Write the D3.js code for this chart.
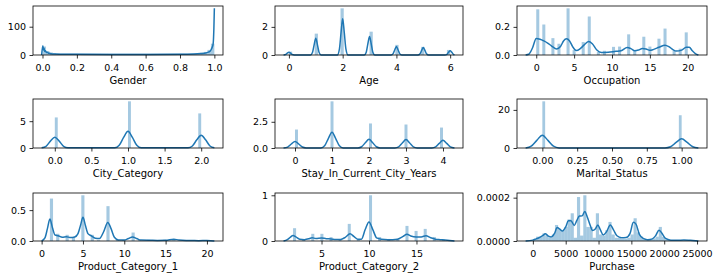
<!DOCTYPE html>
<html>
<head>
<meta charset="utf-8">
<script src="https://cdn.jsdelivr.net/npm/d3@7"></script>
<style>
    body { margin: 0; background: #fff; }
    svg text { font-family: "DejaVu Sans", sans-serif; font-size: 10px; fill: #000; }
</style>
</head>
<body>
<div id="vis"></div>
<script>
// column names, one panel each (row by row)
var names = ['Gender', 'Age', 'Occupation',
    'City_Category', 'Stay_In_Current_City_Years', 'Marital_Status',
    'Product_Category_1', 'Product_Category_2', 'Purchase'];

// histogram range of each column (50 bins each)
var binRanges = [[0, 1], [0, 6], [0, 20], [0, 2], [0, 4], [0, 1], [1, 20], [2, 18], [12, 23961]];

var xTickVals = [[0, 0.2, 0.4, 0.6, 0.8, 1], [0, 2, 4, 6], [0, 5, 10, 15, 20],
    [0, 0.5, 1, 1.5, 2], [0, 1, 2, 3, 4], [0, 0.25, 0.5, 0.75, 1],
    [0, 5, 10, 15, 20], [5, 10, 15], [0, 5000, 10000, 15000, 20000, 25000]];
var xTickFmt = ['.1f', 'd', 'd', '.1f', 'd', '.2f', 'd', 'd', 'd'];
var yTickVals = [[0, 100], [0, 2], [0, 0.2], [0, 5], [0, 2.5], [0, 20], [0, 0.5], [0, 1], [0, 0.0002]];
var yTickFmt = ['d', 'd', '.1f', 'd', '.1f', 'd', '.1f', 'd', '.4f'];

// bar heights (density) - Gender and Purchase are given bin by bin
var genderHist = [30, 14, 9, 7, 6,
    5, 5, 5, 5, 5, 5, 5, 5, 5, 5, 5, 5, 5, 5, 5, 5, 5, 5, 5, 5,
    5, 5, 5, 5, 5, 5, 5, 5, 5, 5, 5, 5, 5, 5, 5, 5, 5, 5, 5, 5,
    6, 8, 11, 18, 40];
var ageBars = [[0, 0.24], [1, 1.52], [2, 3.32], [3, 1.66], [4, 0.72], [5, 0.58], [6, 0.36]];
var occupationBars = [[0, 0.325], [1, 0.217], [2, 0.12], [3, 0.08], [4, 0.332], [5, 0.035], [6, 0.092],
    [7, 0.274], [8, 0.022], [9, 0.03], [10, 0.058], [11, 0.06], [12, 0.147], [13, 0.03], [14, 0.13],
    [15, 0.06], [16, 0.116], [17, 0.188], [18, 0.03], [19, 0.045], [20, 0.161]];
var cityBars = [[0, 5.7], [1, 8.7], [2, 6.45]];
var stayBars = [[0, 1.76], [1, 4.45], [2, 2.34], [3, 2.24], [4, 1.95]];
var maritalBars = [[0, 24.5], [1, 17.2]];
var pc1Bars = [[1, 0.687], [2, 0.117], [3, 0.1], [4, 0.066], [5, 0.74], [6, 0.1], [7, 0.012], [8, 0.564],
    [9, 0.015], [10, 0.018], [11, 0.137], [12, 0.014], [13, 0.02], [14, 0.008], [15, 0.02], [16, 0.03],
    [17, 0.005], [18, 0.01], [19, 0.005], [20, 0.01]];
var pc2Bars = [[2, 0.28], [3, 0.03], [4, 0.157], [5, 0.157], [6, 0.086], [7, 0.035], [8, 0.374], [9, 0.035],
    [10, 1.0], [11, 0.088], [12, 0.045], [13, 0.045], [14, 0.33], [15, 0.22], [16, 0.265], [17, 0.088], [18, 0.03]];
var purchaseHist = [0.8e-5, 2.0e-5, 1.8e-5, 3.5e-5, 2.5e-5, 1.5e-5, 3.0e-5, 7.4e-5, 5.5e-5, 4.8e-5,
    6.5e-5, 10.0e-5, 12.8e-5, 1.5e-5, 20.3e-5, 2.5e-5, 21.1e-5, 6.5e-5, 6.5e-5, 1.5e-5,
    12.8e-5, 3.0e-5, 2.5e-5, 5.0e-5, 8.8e-5, 3.0e-5, 1.5e-5, 1.5e-5, 1.0e-5, 1.0e-5,
    1.5e-5, 3.0e-5, 10.5e-5, 4.0e-5, 2.0e-5, 1.2e-5, 0.8e-5, 0.8e-5, 1.2e-5, 2.0e-5,
    6.5e-5, 2.0e-5, 0.8e-5, 0.5e-5, 0.3e-5, 0.3e-5, 0.3e-5, 0.3e-5, 0.4e-5, 0.3e-5];

// kde curves, [x, density]
var genderKde = [[-0.005, 0], [0.002, 33], [0.006, 18], [0.009, 24], [0.013, 12], [0.017, 15], [0.022, 9],
    [0.027, 10], [0.033, 7], [0.04, 6], [0.05, 4.5], [0.07, 3.5], [0.1, 3], [0.2, 2.5], [0.4, 2.2],
    [0.6, 2.2], [0.8, 2.5], [0.88, 3.5], [0.92, 5], [0.95, 7], [0.965, 10], [0.975, 13], [0.982, 20],
    [0.988, 28], [0.993, 40], [0.997, 90], [1.0, 165]];
var ageKde = [[-0.2, 0], [-0.12, 0.04], [-0.06, 0.14], [0, 0.2], [0.06, 0.14], [0.12, 0.04], [0.2, 0],
    [0.8, 0], [0.88, 0.2], [0.94, 0.74], [1, 1.2], [1.06, 0.74], [1.12, 0.2], [1.2, 0],
    [1.8, 0], [1.88, 0.44], [1.94, 1.6], [2, 2.58], [2.06, 1.6], [2.12, 0.44], [2.2, 0],
    [2.8, 0], [2.88, 0.22], [2.94, 0.82], [3, 1.32], [3.06, 0.82], [3.12, 0.22], [3.2, 0],
    [3.8, 0], [3.88, 0.1], [3.94, 0.37], [4, 0.6], [4.06, 0.37], [4.12, 0.1], [4.2, 0],
    [4.8, 0], [4.88, 0.09], [4.94, 0.33], [5, 0.53], [5.06, 0.33], [5.12, 0.09], [5.2, 0],
    [5.8, 0], [5.88, 0.05], [5.94, 0.19], [6, 0.31], [6.06, 0.19], [6.12, 0.05], [6.16, 0]];
var occupationKde = [[-1.4, 0], [-1, 0.005], [-0.5, 0.05], [0, 0.118], [0.5, 0.112], [1, 0.1], [1.5, 0.085],
    [2, 0.065], [2.7, 0.043], [3.2, 0.06], [3.6, 0.1], [4, 0.115], [4.4, 0.1], [4.8, 0.06], [5.3, 0.032],
    [5.8, 0.045], [6.3, 0.07], [6.9, 0.096], [7.4, 0.08], [8, 0.035], [8.6, 0.018], [9.5, 0.02],
    [10.5, 0.026], [11.2, 0.03], [12, 0.053], [12.5, 0.045], [13, 0.03], [13.5, 0.035], [14, 0.047],
    [14.5, 0.043], [15, 0.033], [15.5, 0.04], [16.2, 0.055], [17, 0.07], [17.5, 0.06], [18, 0.04],
    [18.5, 0.028], [19.2, 0.035], [19.8, 0.055], [20.2, 0.055], [20.6, 0.03], [21, 0.01], [21.4, 0]];
var cityKde = [[-0.18, 0.03], [-0.12, 0.32], [-0.06, 1.28], [0, 2.0], [0.06, 1.28], [0.12, 0.32], [0.18, 0.03],
    [0.82, 0.03], [0.88, 0.5], [0.94, 1.98], [1, 3.1], [1.06, 1.98], [1.12, 0.5], [1.18, 0.03],
    [1.82, 0.03], [1.88, 0.38], [1.94, 1.52], [2, 2.37], [2.06, 1.52], [2.12, 0.38], [2.18, 0.03]];
var stayKde = [[-0.31, 0], [-0.2, 0.09], [-0.1, 0.38], [0, 0.63], [0.1, 0.38], [0.2, 0.09], [0.3, 0.01],
    [0.7, 0.01], [0.8, 0.21], [0.9, 0.9], [1, 1.5], [1.1, 0.9], [1.2, 0.21], [1.3, 0.01],
    [1.7, 0.01], [1.8, 0.12], [1.9, 0.5], [2, 0.83], [2.1, 0.5], [2.2, 0.12], [2.3, 0.01],
    [2.7, 0.01], [2.8, 0.11], [2.9, 0.48], [3, 0.8], [3.1, 0.48], [3.2, 0.11], [3.3, 0.01],
    [3.7, 0.01], [3.8, 0.1], [3.9, 0.44], [4, 0.73], [4.1, 0.44], [4.2, 0.1], [4.31, 0]];
var maritalKde = [[-0.12, 0], [-0.08, 0.95], [-0.04, 4.0], [0, 6.7], [0.04, 4.0], [0.08, 0.95], [0.12, 0.05],
    [0.88, 0.05], [0.92, 0.68], [0.96, 2.9], [1, 4.8], [1.04, 2.9], [1.08, 0.68], [1.12, 0]];
var pc1Kde = [[0, 0], [0.4, 0.05], [0.7, 0.2], [1, 0.355], [1.3, 0.22], [1.6, 0.1], [2, 0.085], [2.5, 0.06],
    [3, 0.07], [3.5, 0.055], [4, 0.065], [4.4, 0.12], [4.7, 0.25], [5, 0.385], [5.3, 0.25], [5.6, 0.12],
    [6, 0.085], [6.5, 0.045], [7, 0.04], [7.5, 0.15], [8, 0.3], [8.4, 0.2], [8.8, 0.06], [9.3, 0.015],
    [10, 0.015], [10.5, 0.04], [11, 0.066], [11.5, 0.04], [12, 0.015], [13, 0.014], [14, 0.01],
    [15, 0.012], [16, 0.03], [16.6, 0.015], [17.5, 0.008], [18, 0.01], [19, 0.006], [20, 0.008], [20.9, 0]];
var pc2Kde = [[1, 0], [1.4, 0.03], [1.7, 0.08], [2, 0.122], [2.3, 0.09], [2.7, 0.04], [3.2, 0.03], [3.7, 0.05],
    [4, 0.07], [4.4, 0.055], [5, 0.068], [5.5, 0.05], [6, 0.045], [6.5, 0.035], [7, 0.035], [7.5, 0.08],
    [8, 0.158], [8.4, 0.1], [8.8, 0.04], [9.2, 0.04], [9.6, 0.25], [10, 0.418], [10.4, 0.25], [10.8, 0.07],
    [11.3, 0.04], [12, 0.03], [12.5, 0.03], [13, 0.04], [13.6, 0.1], [14, 0.15], [14.4, 0.11], [15, 0.09],
    [15.5, 0.09], [16, 0.115], [16.5, 0.07], [17, 0.04], [17.5, 0.03], [18, 0.02], [18.5, 0.01], [19, 0]];
var purchaseKde = [[-1100, 0], [0, 4e-6], [500, 1e-5], [1000, 1.6e-5], [1500, 2.5e-5], [1900, 3.3e-5],
    [2300, 2.4e-5], [2800, 1.9e-5], [3300, 3.5e-5], [3700, 6.2e-5], [4100, 5.5e-5], [4500, 4.6e-5],
    [5000, 6.5e-5], [5400, 9.3e-5], [5800, 9.4e-5], [6300, 7.2e-5], [6700, 9.5e-5], [7100, 11.5e-5],
    [7500, 11.6e-5], [7900, 13.6e-5], [8300, 11e-5], [8700, 7.5e-5], [9100, 4.8e-5], [9500, 5.5e-5],
    [9900, 7.4e-5], [10300, 5e-5], [10700, 2.8e-5], [11200, 4.2e-5], [11800, 7.4e-5], [12300, 5e-5],
    [12800, 2.4e-5], [13500, 1.5e-5], [14200, 1.6e-5], [14800, 3.5e-5], [15300, 8.6e-5], [15700, 7.8e-5],
    [16200, 3.2e-5], [16800, 1.2e-5], [17500, 6e-6], [18200, 1e-5], [18700, 2.5e-5], [19200, 5e-5],
    [19600, 3.8e-5], [20200, 1.2e-5], [21000, 4e-6], [22000, 3e-6], [23000, 5e-6], [24000, 3e-6], [25200, 0]];

var nBins = 50;

// histograms given bin by bin -> [value at bin centre, height]
var byBin = function(hist, range) {
    var w = (range[1] - range[0]) / nBins;
    return hist.map(function(h, i) { return [range[0] + w * (i + 0.5), h]; });
};

var barSets = [byBin(genderHist, binRanges[0]), ageBars, occupationBars, cityBars, stayBars,
    maritalBars, pc1Bars, pc2Bars, byBin(purchaseHist, binRanges[8])];
var kdeSets = [genderKde, ageKde, occupationKde, cityKde, stayKde, maritalKde, pc1Kde, pc2Kde, purchaseKde];

var width = 720, height = 280;
var colLeft = [33, 275, 517], colRight = [223, 463, 707];
var rowTop = [6, 99, 193], rowBottom = [55, 148, 241];

var blue = '#1f77b4';

var svg = d3.select('#vis')
    .append('svg')
    .attr('width', width)
    .attr('height', height);

names.forEach(function(name, p) {
    var left = colLeft[p % 3], right = colRight[p % 3];
    var top = rowTop[Math.floor(p / 3)], bottom = rowBottom[Math.floor(p / 3)];
    var range = binRanges[p];
    var bars = barSets[p], kde = kdeSets[p];
    var w = (range[1] - range[0]) / nBins;

    // autoscale like matplotlib: data extent plus 5% margins, y from 0
    var xExt = d3.extent(range.concat(kde.map(function(d) { return d[0]; })));
    var xPad = (xExt[1] - xExt[0]) * 0.05;
    var yMax = d3.max(bars.concat(kde), function(d) { return d[1]; }) * 1.05;

    var xScale = d3.scaleLinear().domain([xExt[0] - xPad, xExt[1] + xPad]).range([left, right]);
    var yScale = d3.scaleLinear().domain([0, yMax]).range([bottom, top]);

    var g = svg.append('g').attr('class', 'panel');

    g.selectAll('rect.bar')
        .data(bars)
        .enter().append('rect')
        .attr('class', 'bar')
        .attr('x', function(d) {
            var i = Math.min(Math.floor((d[0] - range[0]) / w), nBins - 1);
            return xScale(range[0] + i * w);
        })
        .attr('width', function() { return xScale(range[0] + w) - xScale(range[0]); })
        .attr('y', function(d) { return yScale(d[1]); })
        .attr('height', function(d) { return yScale(0) - yScale(d[1]); })
        .attr('fill', blue)
        .attr('fill-opacity', 0.4);

    var line = d3.line()
        .x(function(d) { return xScale(d[0]); })
        .y(function(d) { return yScale(d[1]); })
        .curve(d3.curveMonotoneX);

    g.append('path')
        .datum(kde)
        .attr('d', line)
        .attr('fill', 'none')
        .attr('stroke', blue)
        .attr('stroke-width', 1.5)
        .attr('stroke-linejoin', 'round');

    // frame
    g.append('rect')
        .attr('x', left).attr('y', top)
        .attr('width', right - left).attr('height', bottom - top)
        .attr('fill', 'none')
        .attr('stroke', '#000')
        .attr('stroke-width', 0.8);

    var xAxis = d3.axisBottom(xScale)
        .tickValues(xTickVals[p])
        .tickFormat(d3.format(xTickFmt[p]))
        .tickSize(3.5)
        .tickPadding(5.5);
    var yAxis = d3.axisLeft(yScale)
        .tickValues(yTickVals[p])
        .tickFormat(d3.format(yTickFmt[p]))
        .tickSize(3.5)
        .tickPadding(3.5);

    var gx = g.append('g')
        .attr('transform', 'translate(0,' + bottom + ')')
        .call(xAxis);
    var gy = g.append('g')
        .attr('transform', 'translate(' + left + ',0)')
        .call(yAxis);

    [gx, gy].forEach(function(ax) {
        ax.select('.domain').remove();
        ax.selectAll('line').attr('stroke', '#000').attr('stroke-width', 0.8);
        ax.selectAll('text')
            .attr('fill', '#000')
            .style('font-family', '"DejaVu Sans", sans-serif')
            .style('font-size', '9.5px');
    });

    g.append('text')
        .attr('x', (left + right) / 2)
        .attr('y', bottom + 29)
        .attr('text-anchor', 'middle')
        .text(name);
});
</script>
</body>
</html>
